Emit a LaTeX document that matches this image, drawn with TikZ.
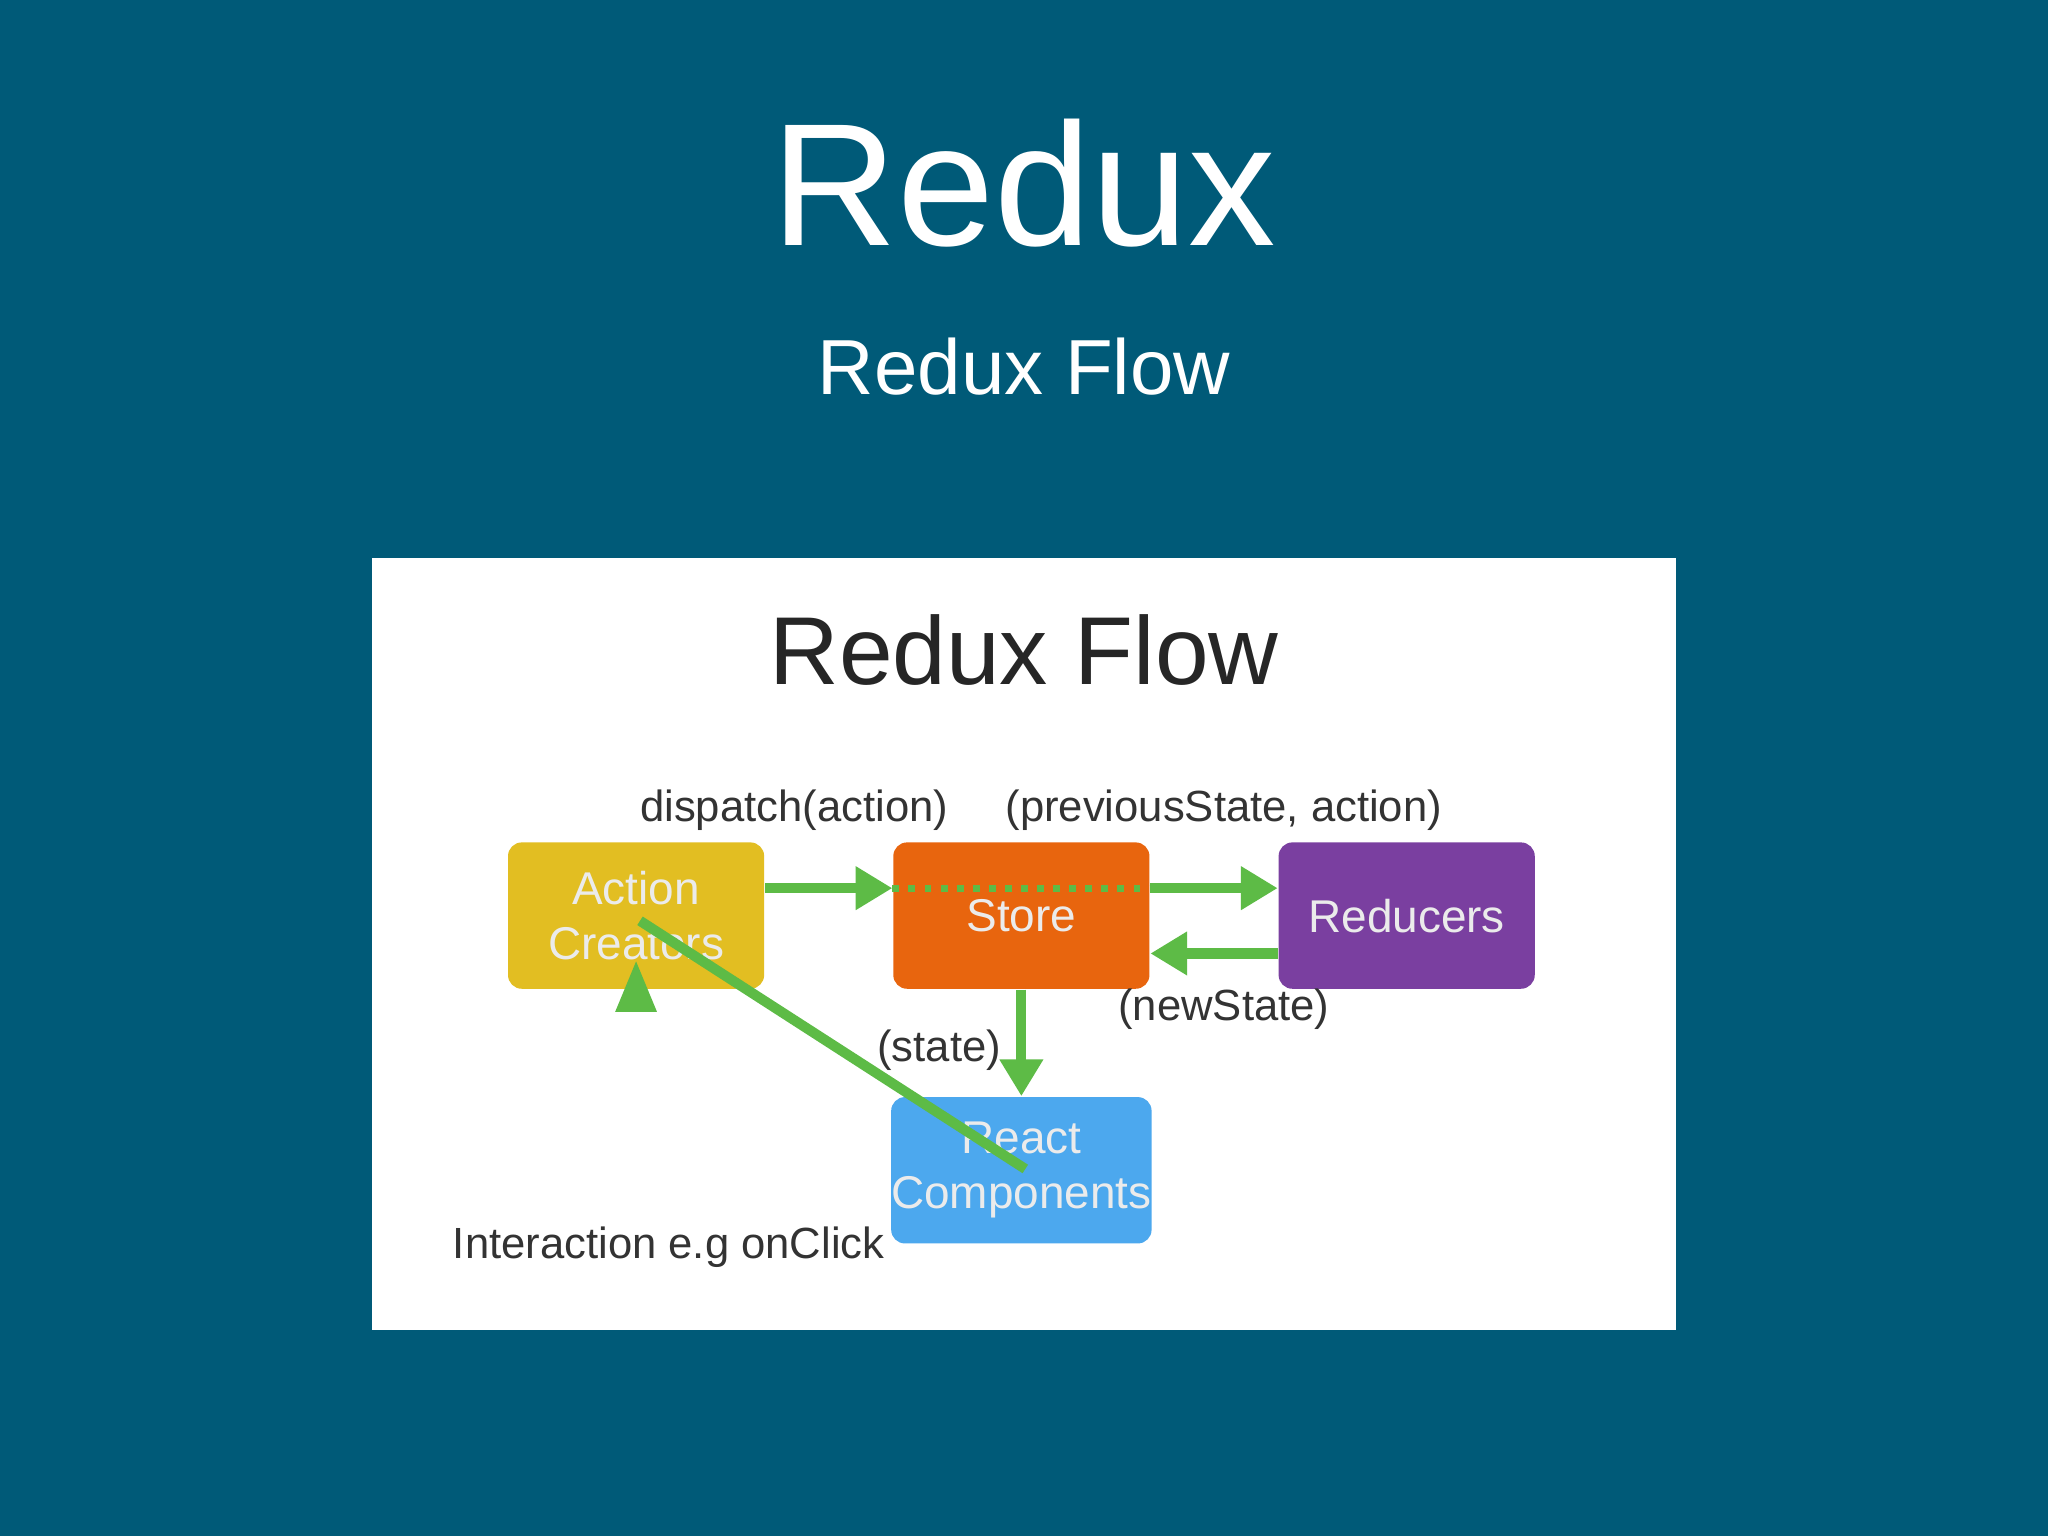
\documentclass[tikz,border=0pt]{standalone}
\usepackage{fontspec}
\setmainfont{Liberation Sans}
\usetikzlibrary{arrows.meta,shapes.geometric}
\definecolor{bg}{HTML}{005A78}
\definecolor{ac}{HTML}{E2BE22}
\definecolor{st}{HTML}{E8650E}
\definecolor{rd}{HTML}{7A3FA0}
\definecolor{rc}{HTML}{4CA8EE}
\definecolor{gr}{HTML}{5DBB46}
\begin{document}
\begin{tikzpicture}[x=0.01cm,y=-0.01cm,
 box/.style={draw=none,rounded corners=3pt,minimum width=1.96cm,minimum height=1.12cm,inner sep=0,text=white!92!black,font=\fontsize{10}{12}\selectfont,align=center},
 lab/.style={font=\fontsize{9.5}{11}\selectfont,text=black!80,inner sep=0},
 arr/.style={draw=gr,line width=2.2pt,-{Triangle[length=8pt,width=9pt]}}]
\fill[bg] (0,0) rectangle (1568,1176);
\useasboundingbox (0,0) rectangle (1568,1176);
\node[text=white,font=\fontsize{38}{44}\selectfont] (t) at (784,140) {Redux};
\node[text=white,font=\fontsize{17}{20}\selectfont] (s) at (784,281) {Redux Flow};
\fill[white] (285,427) rectangle (1283,1018);
\node[font=\fontsize{21}{24}\selectfont,text=black!85] (h) at (784,498) {Redux Flow};
\node[box,fill=ac] (a) at (487,701) {Action\\Creators};
\node[box,fill=st] (b) at (782,701) {Store};
\node[box,fill=rd] (c) at (1077,701) {Reducers};
\node[box,fill=rc] (d) at (782,896) {React\\Components};
\draw[arr] (a.east|-0,680) -- (b.west|-0,680);
\draw[gr,line width=1.5pt,dotted] (b.west|-0,680) -- (b.east|-0,680);
\draw[arr] (b.east|-0,680) -- (c.west|-0,680);
\draw[arr] (c.west|-0,730) -- (b.east|-0,730);
\draw[arr] (b.south) -- (d.north);
\coordinate (e) at (490,705);
\draw[gr,line width=2.2pt] (785,895) -- (e);
\node[fill=gr,isosceles triangle,shape border rotate=90,minimum width=0.32cm,minimum height=0.22cm,inner sep=0] (tri) at (487,764) {};
\node[lab] (l1) at (608,620) {dispatch(action)};
\node[lab] (l2) at (937,620) {(previousState, action)};
\node[lab] (l3) at (937,773) {(newState)};
\node[lab] (l4) at (719,804) {(state)};
\node[lab] (l5) at (512,955) {Interaction e.g onClick};
\end{tikzpicture}
\end{document}
